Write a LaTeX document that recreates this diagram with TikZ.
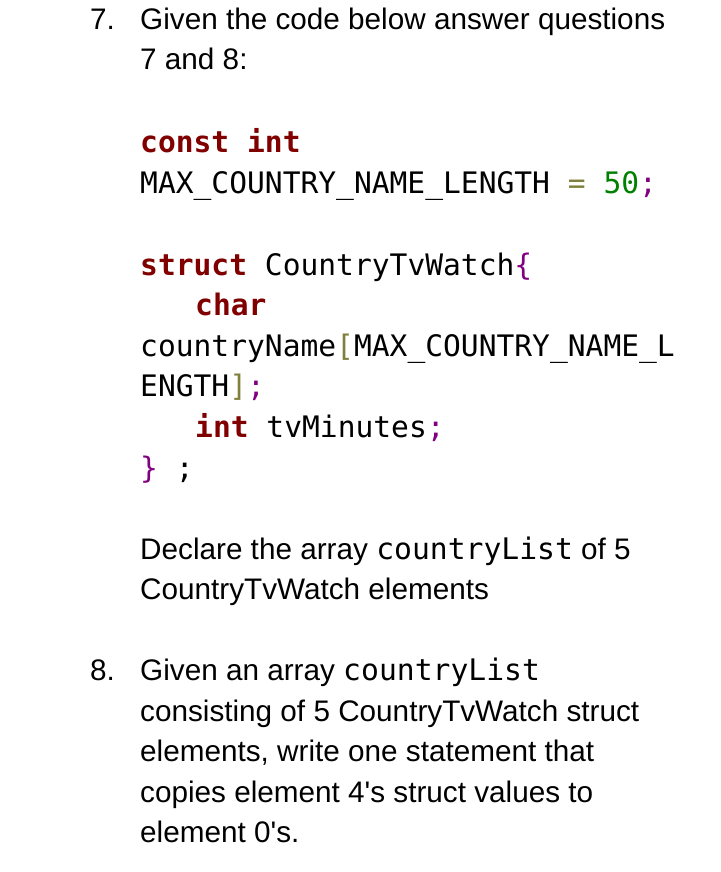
\documentclass[tikz,border=0pt]{standalone}
\usepackage{fontspec}
\setmainfont{Liberation Sans}
\setmonofont{DejaVu Sans Mono}
\newfontfamily\aposfont{Liberation Sans}
\definecolor{kw}{RGB}{128,0,0}
\definecolor{op}{RGB}{128,128,60}
\definecolor{num}{RGB}{0,128,0}
\definecolor{pun}{RGB}{128,0,128}
\newcommand{\apos}{{\aposfont\char"0027\relax}}
\begin{document}
\begin{tikzpicture}[x=1pt,y=-1pt,
  txt/.style={anchor=base west,inner sep=0pt,font=\fontsize{29.7}{34}\selectfont},
  code/.style={anchor=base west,inner sep=0pt,font=\fontsize{29.6}{34}\selectfont\ttfamily}]
\useasboundingbox (0,0) rectangle (720,872);
\node[txt] (n7) at (90,30) {7.};
\node[txt] (l1) at (140,30) {Given the code below answer questions};
\node[txt] (l2) at (140,70) {7 and 8:};
\node[code] (c1) at (140,152) {\textcolor{kw}{\bfseries const int}};
\node[code] (c2) at (140,193) {MAX\_COUNTRY\_NAME\_LENGTH \textcolor{op}{=} \textcolor{num}{50}\textcolor{pun}{;}};
\node[code] (c3) at (140,275) {\textcolor{kw}{\bfseries struct} CountryTvWatch\textcolor{pun}{\{}};
\node[code] (c4) at (195,315) {\textcolor{kw}{\bfseries char}};
\node[code] (c5) at (140,356) {countryName\textcolor{op}{[}MAX\_COUNTRY\_NAME\_L};
\node[code] (c6) at (140,396) {ENGTH\textcolor{op}{]}\textcolor{pun}{;}};
\node[code] (c7) at (195,437) {\textcolor{kw}{\bfseries int} tvMinutes\textcolor{pun}{;}};
\node[code] (c8) at (140,478) {\textcolor{pun}{\}} ;};
\node[txt] (d1) at (140,559) {Declare the array \texttt{countryList} of 5};
\node[txt] (d2) at (140,599) {CountryTvWatch elements};
\node[txt] (n8) at (90,680) {8.};
\node[txt] (e1) at (140,680) {Given an array \texttt{countryList}};
\node[txt] (e2) at (140,721) {consisting of 5 CountryTvWatch struct};
\node[txt] (e3) at (140,761) {elements, write one statement that};
\node[txt] (e4) at (140,802) {copies element 4\apos s struct values to};
\node[txt] (e5) at (140,842) {element 0\apos s.};
\end{tikzpicture}
\end{document}
